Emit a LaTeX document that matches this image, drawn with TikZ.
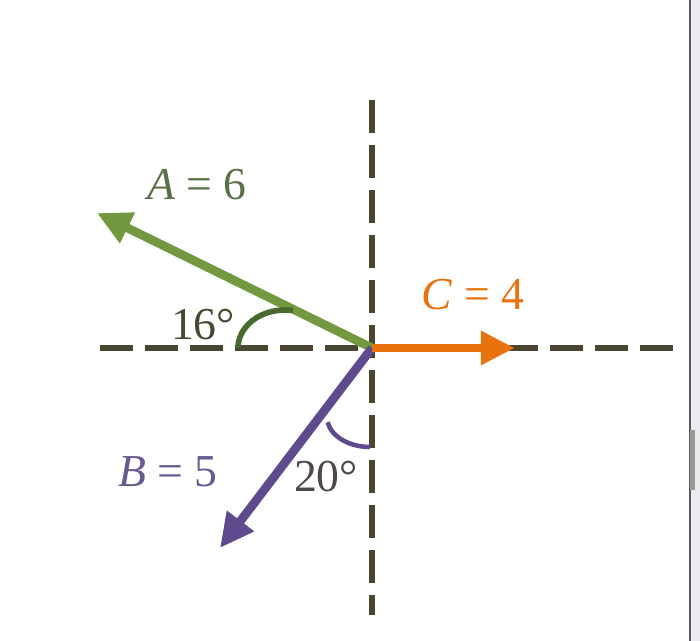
\documentclass[tikz,border=0pt]{standalone}
\usepackage{fontspec}
\setmainfont{Liberation Serif}
\usetikzlibrary{arrows.meta}
\definecolor{axisgray}{HTML}{4A4632}
\definecolor{vecA}{HTML}{72993F}
\definecolor{arcA}{HTML}{496A2E}
\definecolor{txtA}{HTML}{5A7046}
\definecolor{vecB}{HTML}{5E4A8C}
\definecolor{txtB}{HTML}{6A5A92}
\definecolor{vecC}{HTML}{E8730E}
\definecolor{barside}{HTML}{ECECF0}
\tikzset{
  axis/.style={draw=axisgray, line width=1.5pt, dash pattern=on 0.33cm off 0.12cm},
  vec/.style={line width=2.5pt, -{Triangle[length=0.34cm,width=0.32cm]}},
  lbl/.style={font=\fontsize{13}{15}\selectfont}
}
\begin{document}
\begin{tikzpicture}

      \useasboundingbox (-3.72,-2.93) rectangle (3.28,3.48);

      % window edge
      \fill[barside] (3.18,-2.93) rectangle (3.28,3.48);
      \draw[gray!70!black, line width=0.6pt] (3.18,-2.93) -- (3.18,3.48);
      \fill[gray!80] (3.185,-1.42) rectangle (3.23,-0.82);

      \coordinate (O) at (0,0);
      \coordinate (up) at (0,2.48);
      \coordinate (down) at (0,-2.67);
      \coordinate (left) at (-2.72,0);
      \coordinate (right) at (3.03,0);
      \coordinate (tipA) at (-2.75,1.35);
      \coordinate (tipB) at (-1.52,-2.00);
      \coordinate (tipC) at (1.43,0);

      \path[axis] (up) -- (down);
      \path[axis] (left) -- (right);

      \draw[vec, vecA] (O) -- (tipA);
      \draw[vec, vecB] (O) -- (tipB);
      \draw[vec, vecC] (O) -- (tipC);

      % angle marks
      \draw[arcA, line width=1.6pt] (-1.34,0) arc[start angle=180, end angle=80, x radius=0.47, y radius=0.38];
      \draw[vecB, line width=1.3pt] (-0.02,-0.99) arc[start angle=270, end angle=190, x radius=0.43, y radius=0.30];

      \begin{scope}[every node/.style={lbl}]
        \node[txtA] (labA) at (-1.75,1.63) {\textit{A} = 6};
        \node[axisgray] (ang16) at (-1.69,0.23) {16°};
        \node[vecC] (labC) at (1.01,0.53) {\textit{C} = 4};
        \node[txtB] (labB) at (-2.04,-1.24) {\textit{B} = 5};
        \node[axisgray!70!vecB] (ang20) at (-0.46,-1.29) {20°};
      \end{scope}

    \end{tikzpicture}
\end{document}
